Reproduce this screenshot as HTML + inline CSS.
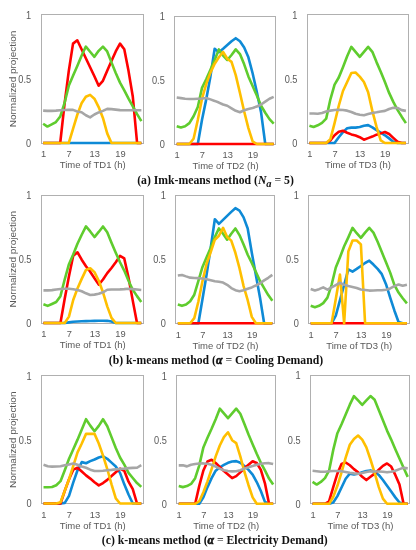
<!DOCTYPE html>
<html><head><meta charset="utf-8"><style>
html,body{margin:0;padding:0;background:#fff;}
svg{display:block;}
#w{will-change:transform;width:416px;height:550px;overflow:hidden;}
.t{font-family:"Liberation Sans",sans-serif;font-size:8.8px;fill:#595959;}
.c{font-family:"Liberation Serif",serif;font-size:11.72px;font-weight:bold;fill:#111;}
</style></head><body><div id="w">
<svg width="416" height="550" viewBox="0 0 416 550">
<rect width="416" height="550" fill="#fff"/>
<rect x="41.5" y="14.5" width="102.00" height="129.00" fill="none" stroke="#b0b0b0" stroke-width="1"/>
<polyline points="43.14,143.00 47.41,143.00 51.68,143.00 55.95,143.00 60.22,143.00 64.49,143.00 68.76,143.00 73.03,143.00 77.30,143.00 81.57,143.00 85.84,143.00 90.11,143.00 94.39,143.00 98.66,143.00 102.93,143.00 107.20,143.00 111.47,143.00 115.74,143.00 120.01,143.00 124.28,143.00 128.55,143.00 132.82,143.00 137.09,143.00 141.36,143.00" fill="none" stroke="#0e8ad6" stroke-width="2.6" stroke-linejoin="round"/>
<polyline points="43.14,143.00 47.41,143.00 51.68,143.00 55.95,143.00 60.22,143.00 64.49,104.48 68.76,71.10 73.03,43.62 77.30,40.28 81.57,49.27 85.84,58.26 90.11,67.24 94.39,76.23 98.66,85.73 102.93,80.85 107.20,70.71 111.47,60.95 115.74,51.45 120.01,43.62 124.28,49.27 128.55,71.10 132.82,96.78 137.09,143.00 141.36,143.00" fill="none" stroke="#ff0000" stroke-width="2.6" stroke-linejoin="round"/>
<polyline points="43.14,123.74 47.41,126.56 51.68,124.38 55.95,122.07 60.22,116.55 64.49,103.20 68.76,85.86 73.03,75.85 77.30,65.96 81.57,55.82 85.84,46.57 90.11,51.71 94.39,56.84 98.66,50.81 102.93,46.57 107.20,51.45 111.47,62.36 115.74,73.02 120.01,82.65 124.28,90.36 128.55,98.70 132.82,106.41 137.09,114.11 141.36,121.17" fill="none" stroke="#5fcc2e" stroke-width="2.6" stroke-linejoin="round"/>
<polyline points="43.14,143.00 47.41,143.00 51.68,143.00 55.95,143.00 60.22,143.00 64.49,143.00 68.76,143.00 73.03,128.88 77.30,114.75 81.57,103.20 85.84,96.78 90.11,94.85 94.39,98.70 98.66,107.05 102.93,117.96 107.20,133.37 111.47,143.00 115.74,143.00 120.01,143.00 124.28,143.00 128.55,143.00 132.82,143.00 137.09,143.00 141.36,143.00" fill="none" stroke="#ffbf00" stroke-width="2.6" stroke-linejoin="round"/>
<polyline points="43.14,110.64 47.41,110.90 51.68,110.90 55.95,110.64 60.22,110.26 64.49,110.00 68.76,109.87 73.03,109.87 77.30,111.54 81.57,112.18 85.84,115.27 90.11,117.32 94.39,114.50 98.66,112.44 102.93,110.90 107.20,108.85 111.47,109.10 115.74,109.62 120.01,110.13 124.28,110.26 128.55,110.26 132.82,110.26 137.09,110.26 141.36,110.26" fill="none" stroke="#a6a6a6" stroke-width="2.6" stroke-linejoin="round"/>
<text transform="translate(31.2 146.9) scale(1.05 1.15)" text-anchor="end" class="t">0</text>
<text transform="translate(31.2 82.7) scale(1.05 1.15)" text-anchor="end" class="t">0.5</text>
<text transform="translate(31.2 18.5) scale(1.05 1.15)" text-anchor="end" class="t">1</text>
<text transform="translate(43.5 157.3) scale(1.06 1.0)" text-anchor="middle" class="t">1</text>
<text transform="translate(69.2 157.3) scale(1.06 1.0)" text-anchor="middle" class="t">7</text>
<text transform="translate(94.8 157.3) scale(1.06 1.0)" text-anchor="middle" class="t">13</text>
<text transform="translate(120.4 157.3) scale(1.06 1.0)" text-anchor="middle" class="t">19</text>
<text transform="translate(92.7 168.2)" text-anchor="middle" textLength="66" lengthAdjust="spacingAndGlyphs" class="t" style="font-size:9.8px">Time of TD1 (h)</text>
<text x="0" y="0" transform="translate(16.1 79.0) rotate(-90)" text-anchor="middle" textLength="96.5" lengthAdjust="spacingAndGlyphs" class="t" style="font-size:9.3px">Normalized projection</text>
<rect x="174.5" y="16.5" width="101.00" height="128.00" fill="none" stroke="#b0b0b0" stroke-width="1"/>
<polyline points="176.71,144.00 180.92,144.00 185.14,144.00 189.36,144.00 193.57,144.00 197.79,144.00 202.01,119.78 206.22,99.38 210.44,76.42 214.66,48.76 218.88,52.20 223.09,48.76 227.31,45.06 231.53,41.23 235.74,38.18 239.96,41.23 244.18,47.48 248.39,57.30 252.61,73.24 256.83,91.98 261.04,112.12 265.26,144.00 269.48,144.00 273.69,144.00" fill="none" stroke="#0e8ad6" stroke-width="2.6" stroke-linejoin="round"/>
<polyline points="176.71,144.00 180.92,144.00 185.14,144.00 189.36,144.00 193.57,144.00 197.79,144.00 202.01,144.00 206.22,144.00 210.44,144.00 214.66,144.00 218.88,144.00 223.09,144.00 227.31,144.00 231.53,144.00 235.74,144.00 239.96,144.00 244.18,144.00 248.39,144.00 252.61,144.00 256.83,144.00 261.04,144.00 265.26,144.00 269.48,144.00 273.69,144.00" fill="none" stroke="#ff0000" stroke-width="2.6" stroke-linejoin="round"/>
<polyline points="176.71,126.28 180.92,127.55 185.14,126.28 189.36,123.09 193.57,116.20 197.79,107.03 202.01,87.90 206.22,79.23 210.44,69.67 214.66,59.98 218.88,49.39 223.09,55.64 227.31,59.98 231.53,55.01 235.74,49.39 239.96,54.11 244.18,64.31 248.39,76.42 252.61,85.99 256.83,95.55 261.04,105.75 265.26,112.76 269.48,119.14 273.69,123.60" fill="none" stroke="#5fcc2e" stroke-width="2.6" stroke-linejoin="round"/>
<polyline points="176.71,144.00 180.92,144.00 185.14,144.00 189.36,144.00 193.57,138.77 197.79,120.03 202.01,98.74 206.22,84.08 210.44,72.60 214.66,63.67 218.88,57.30 223.09,51.95 227.31,58.70 231.53,61.89 235.74,75.15 239.96,93.00 244.18,111.49 248.39,128.06 252.61,141.45 256.83,144.00 261.04,144.00 265.26,144.00 269.48,144.00 273.69,144.00" fill="none" stroke="#ffbf00" stroke-width="2.6" stroke-linejoin="round"/>
<polyline points="176.71,97.46 180.92,98.10 185.14,98.74 189.36,98.99 193.57,98.99 197.79,98.74 202.01,98.48 206.22,98.10 210.44,99.38 214.66,100.91 218.88,102.56 223.09,104.47 227.31,105.75 231.53,108.30 235.74,110.85 239.96,112.25 244.18,110.21 248.39,108.94 252.61,107.92 256.83,106.52 261.04,104.47 265.26,101.67 269.48,98.74 273.69,96.83" fill="none" stroke="#a6a6a6" stroke-width="2.6" stroke-linejoin="round"/>
<text transform="translate(164.8 147.9) scale(1.05 1.15)" text-anchor="end" class="t">0</text>
<text transform="translate(164.8 84.2) scale(1.05 1.15)" text-anchor="end" class="t">0.5</text>
<text transform="translate(164.8 20.4) scale(1.05 1.15)" text-anchor="end" class="t">1</text>
<text transform="translate(177.1 158.3) scale(1.06 1.0)" text-anchor="middle" class="t">1</text>
<text transform="translate(202.4 158.3) scale(1.06 1.0)" text-anchor="middle" class="t">7</text>
<text transform="translate(227.7 158.3) scale(1.06 1.0)" text-anchor="middle" class="t">13</text>
<text transform="translate(253.0 158.3) scale(1.06 1.0)" text-anchor="middle" class="t">19</text>
<text transform="translate(225.6 169.2)" text-anchor="middle" textLength="66" lengthAdjust="spacingAndGlyphs" class="t" style="font-size:9.8px">Time of TD2 (h)</text>
<rect x="307.5" y="14.5" width="101.00" height="129.00" fill="none" stroke="#b0b0b0" stroke-width="1"/>
<polyline points="309.40,143.00 313.59,143.00 317.79,143.00 321.99,143.00 326.18,143.00 330.38,143.00 334.57,143.00 338.77,137.22 342.96,132.09 347.16,128.23 351.36,127.59 355.55,127.59 359.75,126.95 363.94,125.79 368.14,125.15 372.34,127.34 376.53,130.16 380.73,132.73 384.92,135.30 389.12,138.38 393.31,141.72 397.51,143.00 401.71,143.00 405.90,143.00" fill="none" stroke="#0e8ad6" stroke-width="2.6" stroke-linejoin="round"/>
<polyline points="309.40,143.00 313.59,143.00 317.79,143.00 321.99,143.00 326.18,143.00 330.38,140.43 334.57,135.30 338.77,131.70 342.96,130.80 347.16,132.73 351.36,134.40 355.55,135.55 359.75,137.22 363.94,139.66 368.14,138.12 372.34,136.58 376.53,134.65 380.73,133.37 384.92,131.96 389.12,134.01 393.31,137.86 397.51,141.72 401.71,143.00 405.90,143.00" fill="none" stroke="#ff0000" stroke-width="2.6" stroke-linejoin="round"/>
<polyline points="309.40,125.67 313.59,126.95 317.79,125.28 321.99,122.84 326.18,118.60 330.38,99.34 334.57,84.58 338.77,77.52 342.96,67.24 347.16,56.33 351.36,46.83 355.55,51.84 359.75,56.84 363.94,51.84 368.14,46.83 372.34,51.84 376.53,62.11 380.73,71.74 384.92,82.01 389.12,92.92 393.31,101.91 397.51,109.87 401.71,116.68 405.90,123.10" fill="none" stroke="#5fcc2e" stroke-width="2.6" stroke-linejoin="round"/>
<polyline points="309.40,143.00 313.59,143.00 317.79,143.00 321.99,143.00 326.18,143.00 330.38,139.15 334.57,123.10 338.77,105.76 342.96,91.00 347.16,82.01 351.36,73.02 355.55,72.51 359.75,76.62 363.94,82.01 368.14,92.28 372.34,110.90 376.53,126.95 380.73,140.43 384.92,143.00 389.12,143.00 393.31,143.00 397.51,143.00 401.71,143.00 405.90,143.00" fill="none" stroke="#ffbf00" stroke-width="2.6" stroke-linejoin="round"/>
<polyline points="309.40,113.47 313.59,113.47 317.79,113.72 321.99,113.08 326.18,111.54 330.38,110.64 334.57,110.00 338.77,109.74 342.96,110.00 347.16,110.64 351.36,111.93 355.55,113.72 359.75,114.75 363.94,115.27 368.14,114.11 372.34,112.95 376.53,112.31 380.73,111.54 384.92,110.90 389.12,108.97 393.31,107.82 397.51,107.95 401.71,110.13 405.90,110.90" fill="none" stroke="#a6a6a6" stroke-width="2.6" stroke-linejoin="round"/>
<text transform="translate(297.5 146.9) scale(1.05 1.15)" text-anchor="end" class="t">0</text>
<text transform="translate(297.5 82.7) scale(1.05 1.15)" text-anchor="end" class="t">0.5</text>
<text transform="translate(297.5 18.5) scale(1.05 1.15)" text-anchor="end" class="t">1</text>
<text transform="translate(309.8 157.3) scale(1.06 1.0)" text-anchor="middle" class="t">1</text>
<text transform="translate(335.0 157.3) scale(1.06 1.0)" text-anchor="middle" class="t">7</text>
<text transform="translate(360.1 157.3) scale(1.06 1.0)" text-anchor="middle" class="t">13</text>
<text transform="translate(385.3 157.3) scale(1.06 1.0)" text-anchor="middle" class="t">19</text>
<text transform="translate(358.0 168.2)" text-anchor="middle" textLength="66" lengthAdjust="spacingAndGlyphs" class="t" style="font-size:9.8px">Time of TD3 (h)</text>
<rect x="41.5" y="195.5" width="102.00" height="128.00" fill="none" stroke="#b0b0b0" stroke-width="1"/>
<polyline points="43.43,323.00 47.68,323.00 51.94,323.00 56.19,323.00 60.44,323.00 64.70,323.00 68.95,322.36 73.21,321.72 77.46,321.47 81.71,321.21 85.97,321.08 90.22,320.95 94.48,320.83 98.73,320.70 102.99,320.70 107.24,320.83 111.49,321.47 115.75,323.00 120.00,323.00 124.26,323.00 128.51,323.00 132.76,323.00 137.02,323.00 141.27,323.00" fill="none" stroke="#0e8ad6" stroke-width="2.6" stroke-linejoin="round"/>
<polyline points="43.43,323.00 47.68,323.00 51.94,323.00 56.19,323.00 60.44,323.00 64.70,298.70 68.95,276.32 73.21,255.85 77.46,252.27 81.71,259.69 85.97,266.21 90.22,271.84 94.48,278.24 98.73,284.63 102.99,279.51 107.24,273.12 111.49,268.00 115.75,262.25 120.00,255.85 124.26,258.41 128.51,277.60 132.76,300.62 137.02,323.00 141.27,323.00" fill="none" stroke="#ff0000" stroke-width="2.6" stroke-linejoin="round"/>
<polyline points="43.43,304.20 47.68,305.86 51.94,303.94 56.19,302.02 60.44,296.14 64.70,279.51 68.95,264.17 73.21,254.57 77.46,243.70 81.71,234.75 85.97,226.44 90.22,231.42 94.48,237.05 98.73,231.94 102.99,226.44 107.24,232.19 111.49,242.68 115.75,252.65 120.00,262.25 124.26,270.56 128.51,280.79 132.76,289.75 137.02,296.14 141.27,301.90" fill="none" stroke="#5fcc2e" stroke-width="2.6" stroke-linejoin="round"/>
<polyline points="43.43,323.00 47.68,323.00 51.94,323.00 56.19,323.00 60.44,323.00 64.70,323.00 68.95,316.61 73.21,299.98 77.46,288.47 81.71,278.87 85.97,269.92 90.22,268.26 94.48,272.10 98.73,280.79 102.99,292.30 107.24,306.37 111.49,317.88 115.75,323.00 120.00,323.00 124.26,323.00 128.51,323.00 132.76,323.00 137.02,323.00 141.27,323.00" fill="none" stroke="#ffbf00" stroke-width="2.6" stroke-linejoin="round"/>
<polyline points="43.43,290.39 47.68,290.39 51.94,290.13 56.19,289.49 60.44,288.98 64.70,288.72 68.95,288.72 73.21,289.23 77.46,290.00 81.71,291.28 85.97,293.33 90.22,294.99 94.48,294.61 98.73,293.84 102.99,292.30 107.24,289.75 111.49,289.49 115.75,289.49 120.00,289.36 124.26,289.11 128.51,288.72 132.76,289.11 137.02,289.49 141.27,290.00" fill="none" stroke="#a6a6a6" stroke-width="2.6" stroke-linejoin="round"/>
<text transform="translate(31.5 326.9) scale(1.05 1.15)" text-anchor="end" class="t">0</text>
<text transform="translate(31.5 262.9) scale(1.05 1.15)" text-anchor="end" class="t">0.5</text>
<text transform="translate(31.5 199.0) scale(1.05 1.15)" text-anchor="end" class="t">1</text>
<text transform="translate(43.8 337.3) scale(1.06 1.0)" text-anchor="middle" class="t">1</text>
<text transform="translate(69.4 337.3) scale(1.06 1.0)" text-anchor="middle" class="t">7</text>
<text transform="translate(94.9 337.3) scale(1.06 1.0)" text-anchor="middle" class="t">13</text>
<text transform="translate(120.4 337.3) scale(1.06 1.0)" text-anchor="middle" class="t">19</text>
<text transform="translate(92.8 348.2)" text-anchor="middle" textLength="66" lengthAdjust="spacingAndGlyphs" class="t" style="font-size:9.8px">Time of TD1 (h)</text>
<text x="0" y="0" transform="translate(16.1 259.2) rotate(-90)" text-anchor="middle" textLength="96.5" lengthAdjust="spacingAndGlyphs" class="t" style="font-size:9.3px">Normalized projection</text>
<rect x="175.5" y="195.5" width="99.00" height="128.00" fill="none" stroke="#b0b0b0" stroke-width="1"/>
<polyline points="177.85,323.30 181.96,323.30 186.07,323.30 190.18,323.30 194.29,323.30 198.40,323.30 202.50,298.94 206.61,274.58 210.72,247.66 214.83,219.20 218.94,223.82 223.05,219.84 227.15,215.87 231.26,211.89 235.37,208.18 239.48,210.61 243.59,217.41 247.70,228.43 251.80,252.79 255.91,275.23 260.02,297.66 264.13,323.30 268.24,323.30 272.35,323.30" fill="none" stroke="#0e8ad6" stroke-width="2.6" stroke-linejoin="round"/>
<polyline points="177.85,323.30 181.96,323.30 186.07,323.30 190.18,323.30 194.29,323.30 198.40,323.30 202.50,323.30 206.61,323.30 210.72,323.30 214.83,323.30 218.94,323.30 223.05,323.30 227.15,323.30 231.26,323.30 235.37,323.30 239.48,323.30 243.59,323.30 247.70,323.30 251.80,323.30 255.91,323.30 260.02,323.30 264.13,323.30 268.24,323.30 272.35,323.30" fill="none" stroke="#ff0000" stroke-width="2.6" stroke-linejoin="round"/>
<polyline points="177.85,304.58 181.96,305.86 186.07,304.58 190.18,301.25 194.29,294.71 198.40,280.99 202.50,266.89 206.61,257.28 210.72,247.66 214.83,237.02 218.94,228.43 223.05,233.69 227.15,239.71 231.26,233.69 235.37,228.43 239.48,235.10 243.59,244.46 247.70,254.71 251.80,263.05 255.91,272.02 260.02,280.99 264.13,288.05 268.24,295.10 272.35,300.87" fill="none" stroke="#5fcc2e" stroke-width="2.6" stroke-linejoin="round"/>
<polyline points="177.85,323.30 181.96,323.30 186.07,323.30 190.18,323.30 194.29,318.17 198.40,301.51 202.50,280.99 206.61,263.69 210.72,252.15 214.83,239.71 218.94,235.74 223.05,227.79 227.15,237.02 231.26,240.61 235.37,252.79 239.48,268.17 243.59,286.12 247.70,300.22 251.80,316.89 255.91,323.30 260.02,323.30 264.13,323.30 268.24,323.30 272.35,323.30" fill="none" stroke="#ffbf00" stroke-width="2.6" stroke-linejoin="round"/>
<polyline points="177.85,275.48 181.96,274.97 186.07,276.38 190.18,277.66 194.29,278.05 198.40,278.17 202.50,278.56 206.61,279.20 210.72,280.22 214.83,281.25 218.94,281.76 223.05,282.53 227.15,284.84 231.26,288.05 235.37,290.22 239.48,291.25 243.59,290.22 247.70,288.69 251.80,287.40 255.91,285.48 260.02,283.30 264.13,280.35 268.24,277.79 272.35,274.84" fill="none" stroke="#a6a6a6" stroke-width="2.6" stroke-linejoin="round"/>
<text transform="translate(166.0 327.2) scale(1.05 1.15)" text-anchor="end" class="t">0</text>
<text transform="translate(166.0 263.1) scale(1.05 1.15)" text-anchor="end" class="t">0.5</text>
<text transform="translate(166.0 199.0) scale(1.05 1.15)" text-anchor="end" class="t">1</text>
<text transform="translate(178.3 337.6) scale(1.06 1.0)" text-anchor="middle" class="t">1</text>
<text transform="translate(202.9 337.6) scale(1.06 1.0)" text-anchor="middle" class="t">7</text>
<text transform="translate(227.6 337.6) scale(1.06 1.0)" text-anchor="middle" class="t">13</text>
<text transform="translate(252.2 337.6) scale(1.06 1.0)" text-anchor="middle" class="t">19</text>
<text transform="translate(225.5 348.5)" text-anchor="middle" textLength="66" lengthAdjust="spacingAndGlyphs" class="t" style="font-size:9.8px">Time of TD2 (h)</text>
<rect x="308.5" y="195.5" width="101.00" height="128.00" fill="none" stroke="#b0b0b0" stroke-width="1"/>
<polyline points="310.69,323.30 314.88,323.30 319.06,323.30 323.24,323.30 327.43,323.30 331.61,323.30 335.79,315.60 339.98,300.21 344.16,284.81 348.34,269.41 352.53,271.60 356.71,268.90 360.89,265.95 365.08,263.00 369.26,260.69 373.44,264.54 377.62,268.90 381.81,274.16 385.99,284.17 390.18,297.64 394.36,310.47 398.54,322.02 402.73,323.30 406.91,323.30" fill="none" stroke="#0e8ad6" stroke-width="2.6" stroke-linejoin="round"/>
<polyline points="310.69,323.30 314.88,323.30 319.06,323.30 323.24,323.30 327.43,323.30 331.61,323.30 335.79,323.30 339.98,323.30 344.16,323.30 348.34,323.30 352.53,323.30 356.71,323.30 360.89,323.30 365.08,323.30 369.26,323.30 373.44,323.30 377.62,323.30 381.81,323.30 385.99,323.30 390.18,323.30 394.36,323.30 398.54,323.30 402.73,323.30 406.91,323.30" fill="none" stroke="#ff0000" stroke-width="2.6" stroke-linejoin="round"/>
<polyline points="310.69,305.85 314.88,307.26 319.06,305.85 323.24,303.16 327.43,297.64 331.61,284.81 335.79,267.49 339.98,257.23 344.16,246.32 348.34,237.34 352.53,227.84 356.71,233.23 360.89,237.85 365.08,232.59 369.26,227.84 373.44,232.59 377.62,241.83 381.81,252.09 385.99,262.36 390.18,272.62 394.36,284.81 398.54,292.51 402.73,298.28 406.91,303.41" fill="none" stroke="#5fcc2e" stroke-width="2.6" stroke-linejoin="round"/>
<polyline points="310.69,323.30 314.88,323.30 319.06,323.30 323.24,323.30 327.43,323.30 331.61,323.30 335.79,298.92 339.98,274.55 344.16,323.30 348.34,251.45 352.53,240.55 356.71,240.55 360.89,244.40 365.08,323.30 369.26,323.30 373.44,323.30 377.62,323.30 381.81,323.30 385.99,323.30 390.18,323.30 394.36,323.30 398.54,323.30 402.73,323.30 406.91,323.30" fill="none" stroke="#ffbf00" stroke-width="2.6" stroke-linejoin="round"/>
<polyline points="310.69,288.92 314.88,290.46 319.06,289.17 323.24,287.38 327.43,289.69 331.61,287.38 335.79,285.07 339.98,282.76 344.16,284.81 348.34,286.09 352.53,286.99 356.71,288.02 360.89,289.56 365.08,289.94 369.26,290.58 373.44,290.46 377.62,290.20 381.81,290.20 385.99,289.69 390.18,288.40 394.36,286.09 398.54,284.43 402.73,285.71 406.91,284.81" fill="none" stroke="#a6a6a6" stroke-width="2.6" stroke-linejoin="round"/>
<text transform="translate(298.8 327.2) scale(1.05 1.15)" text-anchor="end" class="t">0</text>
<text transform="translate(298.8 263.0) scale(1.05 1.15)" text-anchor="end" class="t">0.5</text>
<text transform="translate(298.8 198.9) scale(1.05 1.15)" text-anchor="end" class="t">1</text>
<text transform="translate(311.1 337.6) scale(1.06 1.0)" text-anchor="middle" class="t">1</text>
<text transform="translate(336.2 337.6) scale(1.06 1.0)" text-anchor="middle" class="t">7</text>
<text transform="translate(361.3 337.6) scale(1.06 1.0)" text-anchor="middle" class="t">13</text>
<text transform="translate(386.4 337.6) scale(1.06 1.0)" text-anchor="middle" class="t">19</text>
<text transform="translate(359.2 348.5)" text-anchor="middle" textLength="66" lengthAdjust="spacingAndGlyphs" class="t" style="font-size:9.8px">Time of TD3 (h)</text>
<rect x="41.5" y="375.5" width="102.00" height="128.00" fill="none" stroke="#b0b0b0" stroke-width="1"/>
<polyline points="43.52,503.50 47.77,503.50 52.02,503.50 56.27,503.50 60.52,503.50 64.78,502.86 69.03,495.84 73.28,482.43 77.53,470.30 81.78,462.13 86.03,463.27 90.28,461.10 94.53,459.44 98.78,457.53 103.03,456.25 107.28,458.81 111.53,462.64 115.78,466.47 120.03,472.85 124.28,484.35 128.53,494.56 132.78,503.50 137.03,503.50 141.28,503.50" fill="none" stroke="#0e8ad6" stroke-width="2.6" stroke-linejoin="round"/>
<polyline points="43.52,503.50 47.77,503.50 52.02,503.50 56.27,503.50 60.52,503.50 64.78,490.73 69.03,479.24 73.28,469.66 77.53,467.74 81.78,471.57 86.03,475.41 90.28,478.60 94.53,482.17 98.78,485.37 103.03,483.07 107.28,479.88 111.53,476.04 115.78,472.21 120.03,468.64 124.28,470.81 128.53,481.66 132.78,489.07 137.03,503.50 141.28,503.50" fill="none" stroke="#ff0000" stroke-width="2.6" stroke-linejoin="round"/>
<polyline points="43.52,487.28 47.77,487.28 52.02,487.03 56.27,485.24 60.52,481.15 64.78,470.30 69.03,458.81 73.28,449.23 77.53,439.65 81.78,429.43 86.03,419.22 90.28,425.60 94.53,431.22 98.78,425.86 103.03,419.22 107.28,426.24 111.53,437.10 115.78,447.95 120.03,457.53 124.28,464.55 128.53,472.85 132.78,477.96 137.03,483.07 141.28,486.90" fill="none" stroke="#5fcc2e" stroke-width="2.6" stroke-linejoin="round"/>
<polyline points="43.52,503.50 47.77,503.50 52.02,503.50 56.27,503.50 60.52,502.22 64.78,490.73 69.03,479.24 73.28,465.83 77.53,452.42 81.78,443.48 86.03,433.90 90.28,433.90 94.53,433.90 98.78,443.48 103.03,455.61 107.28,469.02 111.53,484.35 115.78,498.39 120.03,503.50 124.28,503.50 128.53,503.50 132.78,503.50 137.03,503.50 141.28,503.50" fill="none" stroke="#ffbf00" stroke-width="2.6" stroke-linejoin="round"/>
<polyline points="43.52,464.81 47.77,466.21 52.02,466.59 56.27,466.47 60.52,466.21 64.78,465.19 69.03,464.55 73.28,463.40 77.53,464.81 81.78,466.47 86.03,467.74 90.28,469.66 94.53,470.94 98.78,471.06 103.03,470.81 107.28,470.30 111.53,469.91 115.78,469.40 120.03,469.02 124.28,468.64 128.53,468.13 132.78,467.87 137.03,467.74 141.28,465.19" fill="none" stroke="#a6a6a6" stroke-width="2.6" stroke-linejoin="round"/>
<text transform="translate(31.6 507.4) scale(1.05 1.15)" text-anchor="end" class="t">0</text>
<text transform="translate(31.6 443.5) scale(1.05 1.15)" text-anchor="end" class="t">0.5</text>
<text transform="translate(31.6 379.7) scale(1.05 1.15)" text-anchor="end" class="t">1</text>
<text transform="translate(43.9 517.8) scale(1.06 1.0)" text-anchor="middle" class="t">1</text>
<text transform="translate(69.4 517.8) scale(1.06 1.0)" text-anchor="middle" class="t">7</text>
<text transform="translate(94.9 517.8) scale(1.06 1.0)" text-anchor="middle" class="t">13</text>
<text transform="translate(120.4 517.8) scale(1.06 1.0)" text-anchor="middle" class="t">19</text>
<text transform="translate(92.8 528.7)" text-anchor="middle" textLength="66" lengthAdjust="spacingAndGlyphs" class="t" style="font-size:9.8px">Time of TD1 (h)</text>
<text x="0" y="0" transform="translate(16.1 439.8) rotate(-90)" text-anchor="middle" textLength="96.5" lengthAdjust="spacingAndGlyphs" class="t" style="font-size:9.3px">Normalized projection</text>
<rect x="176.5" y="375.5" width="99.00" height="128.00" fill="none" stroke="#b0b0b0" stroke-width="1"/>
<polyline points="178.75,503.80 182.86,503.80 186.96,503.80 191.06,503.80 195.17,503.80 199.27,503.80 203.38,497.39 207.48,487.13 211.59,478.16 215.69,470.72 219.79,467.26 223.90,464.96 228.00,462.78 232.11,461.49 236.21,461.11 240.31,462.78 244.42,465.98 248.52,469.83 252.63,474.57 256.73,482.01 260.84,490.98 264.94,501.88 269.04,503.80 273.15,503.80" fill="none" stroke="#0e8ad6" stroke-width="2.6" stroke-linejoin="round"/>
<polyline points="178.75,503.80 182.86,503.80 186.96,503.80 191.06,503.80 195.17,503.80 199.27,485.85 203.38,470.47 207.48,461.49 211.59,459.83 215.69,463.03 219.79,466.88 223.90,471.11 228.00,474.44 232.11,478.16 236.21,476.11 240.31,472.39 244.42,468.16 248.52,464.70 252.63,461.24 256.73,463.03 260.84,469.83 264.94,483.29 269.04,503.80 273.15,503.80" fill="none" stroke="#ff0000" stroke-width="2.6" stroke-linejoin="round"/>
<polyline points="178.75,486.11 182.86,487.13 186.96,486.11 191.06,483.93 195.17,478.16 199.27,465.34 203.38,447.39 207.48,437.78 211.59,428.80 215.69,419.19 219.79,408.68 223.90,413.42 228.00,418.16 232.11,413.42 236.21,408.68 240.31,413.80 244.42,424.06 248.52,434.57 252.63,444.19 256.73,453.80 260.84,462.78 264.94,470.47 269.04,478.54 273.15,484.57" fill="none" stroke="#5fcc2e" stroke-width="2.6" stroke-linejoin="round"/>
<polyline points="178.75,503.80 182.86,503.80 186.96,503.80 191.06,503.80 195.17,503.80 199.27,501.24 203.38,492.26 207.48,481.37 211.59,469.19 215.69,456.37 219.79,445.47 223.90,437.14 228.00,432.26 232.11,440.21 236.21,443.16 240.31,456.37 244.42,471.75 248.52,485.21 252.63,497.39 256.73,503.80 260.84,503.80 264.94,503.80 269.04,503.80 273.15,503.80" fill="none" stroke="#ffbf00" stroke-width="2.6" stroke-linejoin="round"/>
<polyline points="178.75,465.34 182.86,465.34 186.96,466.37 191.06,464.70 195.17,464.06 199.27,463.55 203.38,463.42 207.48,463.80 211.59,464.70 215.69,466.62 219.79,468.67 223.90,470.21 228.00,470.98 232.11,471.37 236.21,471.24 240.31,470.21 244.42,468.55 248.52,467.13 252.63,465.98 256.73,464.70 260.84,463.80 264.94,463.29 269.04,463.16 273.15,464.06" fill="none" stroke="#a6a6a6" stroke-width="2.6" stroke-linejoin="round"/>
<text transform="translate(166.9 507.7) scale(1.05 1.15)" text-anchor="end" class="t">0</text>
<text transform="translate(166.9 443.6) scale(1.05 1.15)" text-anchor="end" class="t">0.5</text>
<text transform="translate(166.9 379.5) scale(1.05 1.15)" text-anchor="end" class="t">1</text>
<text transform="translate(179.2 518.1) scale(1.06 1.0)" text-anchor="middle" class="t">1</text>
<text transform="translate(203.8 518.1) scale(1.06 1.0)" text-anchor="middle" class="t">7</text>
<text transform="translate(228.4 518.1) scale(1.06 1.0)" text-anchor="middle" class="t">13</text>
<text transform="translate(253.0 518.1) scale(1.06 1.0)" text-anchor="middle" class="t">19</text>
<text transform="translate(226.3 529.0)" text-anchor="middle" textLength="66" lengthAdjust="spacingAndGlyphs" class="t" style="font-size:9.8px">Time of TD2 (h)</text>
<rect x="310.5" y="375.5" width="99.00" height="128.00" fill="none" stroke="#b0b0b0" stroke-width="1"/>
<polyline points="312.57,503.80 316.71,503.80 320.84,503.80 324.98,503.80 329.12,503.80 333.26,502.52 337.39,496.10 341.53,487.49 345.67,478.76 349.81,473.63 353.94,474.52 358.08,473.63 362.22,472.34 366.36,471.06 370.49,470.42 374.63,471.70 378.77,474.91 382.91,480.05 387.04,485.82 391.18,491.60 395.32,497.38 399.46,502.52 403.59,503.80 407.73,503.80" fill="none" stroke="#0e8ad6" stroke-width="2.6" stroke-linejoin="round"/>
<polyline points="312.57,503.80 316.71,503.80 320.84,503.80 324.98,503.80 329.12,501.23 333.26,487.11 337.39,473.63 341.53,464.00 345.67,462.46 349.81,465.28 353.94,469.13 358.08,472.34 362.22,476.84 366.36,480.05 370.49,476.84 374.63,473.63 378.77,469.77 382.91,465.92 387.04,463.48 391.18,466.56 395.32,474.91 399.46,484.54 403.59,503.80 407.73,503.80" fill="none" stroke="#ff0000" stroke-width="2.6" stroke-linejoin="round"/>
<polyline points="312.57,481.97 316.71,484.54 320.84,481.97 324.98,478.12 329.12,470.42 333.26,449.87 337.39,433.18 341.53,424.32 345.67,414.43 349.81,404.68 353.94,396.07 358.08,400.44 362.22,404.93 366.36,400.44 370.49,396.07 374.63,399.80 378.77,410.07 382.91,420.34 387.04,430.61 391.18,439.60 395.32,449.23 399.46,458.47 403.59,467.85 407.73,476.84" fill="none" stroke="#5fcc2e" stroke-width="2.6" stroke-linejoin="round"/>
<polyline points="312.57,503.80 316.71,503.80 320.84,503.80 324.98,503.80 329.12,503.80 333.26,496.74 337.39,485.82 341.53,472.34 345.67,457.58 349.81,444.74 353.94,438.96 358.08,435.49 362.22,439.60 366.36,447.30 370.49,459.50 374.63,472.98 378.77,487.11 382.91,498.66 387.04,503.80 391.18,503.80 395.32,503.80 399.46,503.80 403.59,503.80 407.73,503.80" fill="none" stroke="#ffbf00" stroke-width="2.6" stroke-linejoin="round"/>
<polyline points="312.57,470.80 316.71,471.19 320.84,471.70 324.98,471.70 329.12,471.31 333.26,470.93 337.39,470.93 341.53,471.31 345.67,471.96 349.81,472.73 353.94,473.37 358.08,473.75 362.22,472.98 366.36,471.96 370.49,471.31 374.63,471.44 378.77,471.44 382.91,471.70 387.04,472.34 391.18,471.70 395.32,470.67 399.46,469.13 403.59,467.85 407.73,468.36" fill="none" stroke="#a6a6a6" stroke-width="2.6" stroke-linejoin="round"/>
<text transform="translate(300.7 507.7) scale(1.05 1.15)" text-anchor="end" class="t">0</text>
<text transform="translate(300.7 443.5) scale(1.05 1.15)" text-anchor="end" class="t">0.5</text>
<text transform="translate(300.7 379.3) scale(1.05 1.15)" text-anchor="end" class="t">1</text>
<text transform="translate(313.0 518.1) scale(1.06 1.0)" text-anchor="middle" class="t">1</text>
<text transform="translate(337.8 518.1) scale(1.06 1.0)" text-anchor="middle" class="t">7</text>
<text transform="translate(362.6 518.1) scale(1.06 1.0)" text-anchor="middle" class="t">13</text>
<text transform="translate(387.4 518.1) scale(1.06 1.0)" text-anchor="middle" class="t">19</text>
<text transform="translate(360.5 529.0)" text-anchor="middle" textLength="66" lengthAdjust="spacingAndGlyphs" class="t" style="font-size:9.8px">Time of TD3 (h)</text>
<text x="215.5" y="184.0" text-anchor="middle" class="c">(a) Imk-means method (<tspan font-style="italic">N</tspan><tspan font-style="italic" font-size="10.5" dy="2.5">a</tspan><tspan dy="-2.5"> </tspan><tspan font-weight="normal">=</tspan> 5)</text>
<text x="216.0" y="364.0" text-anchor="middle" class="c">(b) k-means method (<tspan font-style="italic" stroke="#111" stroke-width="0.55">α</tspan> <tspan font-weight="normal">=</tspan> Cooling Demand)</text>
<text x="214.8" y="543.5" text-anchor="middle" class="c">(c) k-means method (<tspan font-style="italic" stroke="#111" stroke-width="0.55">α</tspan> <tspan font-weight="normal">=</tspan> Electricity Demand)</text>
</svg></div>
</body></html>
